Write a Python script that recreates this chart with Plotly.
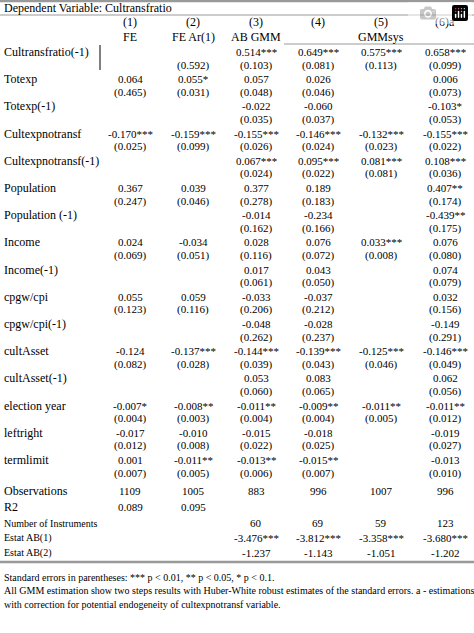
import plotly.graph_objects as go

# regression table values
variables = ["Cultransfratio(-1)", "Totexp", "Totexp(-1)", "Cultexpnotransf", "Cultexpnotransf(-1)",
             "Population", "Population (-1)", "Income", "Income(-1)", "cpgw/cpi", "cpgw/cpi(-1)",
             "cultAsset", "cultAsset(-1)", "election year", "leftright", "termlimit"]
col_nums = ["(1)", "(2)", "(3)", "(4)", "(5)", "(6)a"]
col_names = ["FE", "FE Ar(1)", "AB GMM", "", "GMMsys", ""]

coefs = [
    ["", "", "0.514***", "0.649***", "0.575***", "0.658***"],
    ["0.064", "0.055*", "0.057", "0.026", "", "0.006"],
    ["", "", "-0.022", "-0.060", "", "-0.103*"],
    ["-0.170***", "-0.159***", "-0.155***", "-0.146***", "-0.132***", "-0.155***"],
    ["", "", "0.067***", "0.095***", "0.081***", "0.108***"],
    ["0.367", "0.039", "0.377", "0.189", "", "0.407**"],
    ["", "", "-0.014", "-0.234", "", "-0.439**"],
    ["0.024", "-0.034", "0.028", "0.076", "0.033***", "0.076"],
    ["", "", "0.017", "0.043", "", "0.074"],
    ["0.055", "0.059", "-0.033", "-0.037", "", "0.032"],
    ["", "", "-0.048", "-0.028", "", "-0.149"],
    ["-0.124", "-0.137***", "-0.144***", "-0.139***", "-0.125***", "-0.146***"],
    ["", "", "0.053", "0.083", "", "0.062"],
    ["-0.007*", "-0.008**", "-0.011**", "-0.009**", "-0.011**", "-0.011**"],
    ["-0.017", "-0.010", "-0.015", "-0.018", "", "-0.019"],
    ["0.001", "-0.011**", "-0.013**", "-0.015**", "", "-0.013"],
]
ses = [
    ["", "(0.592)", "(0.103)", "(0.081)", "(0.113)", "(0.099)"],
    ["(0.465)", "(0.031)", "(0.048)", "(0.046)", "", "(0.073)"],
    ["", "", "(0.035)", "(0.037)", "", "(0.053)"],
    ["(0.025)", "(0.099)", "(0.026)", "(0.024)", "(0.023)", "(0.022)"],
    ["", "", "(0.024)", "(0.022)", "(0.081)", "(0.036)"],
    ["(0.247)", "(0.046)", "(0.278)", "(0.183)", "", "(0.174)"],
    ["", "", "(0.162)", "(0.166)", "", "(0.175)"],
    ["(0.069)", "(0.051)", "(0.116)", "(0.072)", "(0.008)", "(0.080)"],
    ["", "", "(0.061)", "(0.050)", "", "(0.079)"],
    ["(0.123)", "(0.116)", "(0.206)", "(0.212)", "", "(0.156)"],
    ["", "", "(0.262)", "(0.237)", "", "(0.291)"],
    ["(0.082)", "(0.028)", "(0.039)", "(0.043)", "(0.046)", "(0.049)"],
    ["", "", "(0.060)", "(0.065)", "", "(0.056)"],
    ["(0.004)", "(0.003)", "(0.004)", "(0.004)", "(0.005)", "(0.012)"],
    ["(0.012)", "(0.008)", "(0.022)", "(0.025)", "", "(0.027)"],
    ["(0.007)", "(0.005)", "(0.006)", "(0.007)", "", "(0.010)"],
]
stat_labels = ["Observations", "R2", "Number of Instruments", "Estat AB(1)", "Estat AB(2)"]
stats = [
    ["1109", "1005", "883", "996", "1007", "996"],
    ["0.089", "0.095", "", "", "", ""],
    ["", "", "60", "69", "59", "123"],
    ["", "", "-3.476***", "-3.812***", "-3.358***", "-3.680***"],
    ["", "", "-1.237", "-1.143", "-1.051", "-1.202"],
]
notes = [
    "Standard errors in parentheses: *** p < 0.01, ** p < 0.05, * p < 0.1.",
    "All GMM estimation show two steps results with Huber-White robust estimates of the standard errors. a - estimations",
    "with correction for potential endogeneity of cultexpnotransf variable.",
]

FONT = "Liberation Serif, Times New Roman, serif"
col_x = [130, 193, 256, 318, 381, 445]
ann = []

def txt(x, y, s, anchor="center", size=12):
    ann.append(dict(x=x, y=y, text=s, showarrow=False, xanchor=anchor, yanchor="middle",
                    font=dict(family=FONT, size=size, color="black")))

txt(2, 8, "Dependent Variable: Cultransfratio", "left")
for i in range(6):
    txt(col_x[i], 22, col_nums[i])
    if col_names[i]:
        txt(col_x[i], 37, col_names[i])

for r, v in enumerate(variables):
    y = 52 + r * 27.2
    txt(2, y, v, "left")
    for i in range(6):
        if coefs[r][i]:
            txt(col_x[i], y, coefs[r][i], size=11)
        if ses[r][i]:
            txt(col_x[i], y + 13, ses[r][i], size=11)

stat_y = [491, 507, 523, 538, 553]
for r, lab in enumerate(stat_labels):
    big = r < 2
    txt(2, stat_y[r], lab, "left", 12 if big else 10)
    for i in range(6):
        if stats[r][i]:
            txt(col_x[i], stat_y[r], stats[r][i], size=11)

for k, n in enumerate(notes):
    txt(2, 577 + k * 13.5, n, "left", 10)

shapes = [
    dict(type="line", x0=0, x1=474, y0=1, y1=1, line=dict(color="#999", width=2.5)),
    dict(type="line", x0=0, x1=474, y0=15, y1=15, line=dict(color="#999", width=1)),
    dict(type="line", x0=284, x1=474, y0=44, y1=44, line=dict(color="#999", width=1)),
    dict(type="line", x0=100, x1=100, y0=45, y1=70, line=dict(color="black", width=1)),
    dict(type="line", x0=0, x1=474, y0=562, y1=562, line=dict(color="#999", width=2.5)),
]

fig = go.Figure()
fig.update_layout(
    width=474, height=633, margin=dict(l=0, r=0, t=0, b=0),
    paper_bgcolor="white", plot_bgcolor="white",
    xaxis=dict(range=[0, 474], visible=False, fixedrange=True),
    yaxis=dict(range=[633, 0], visible=False, fixedrange=True),
    annotations=ann, shapes=shapes, showlegend=False,
)
fig.write_html("out.html", post_script="document.body.style.margin='0';document.body.style.overflow='hidden';")
